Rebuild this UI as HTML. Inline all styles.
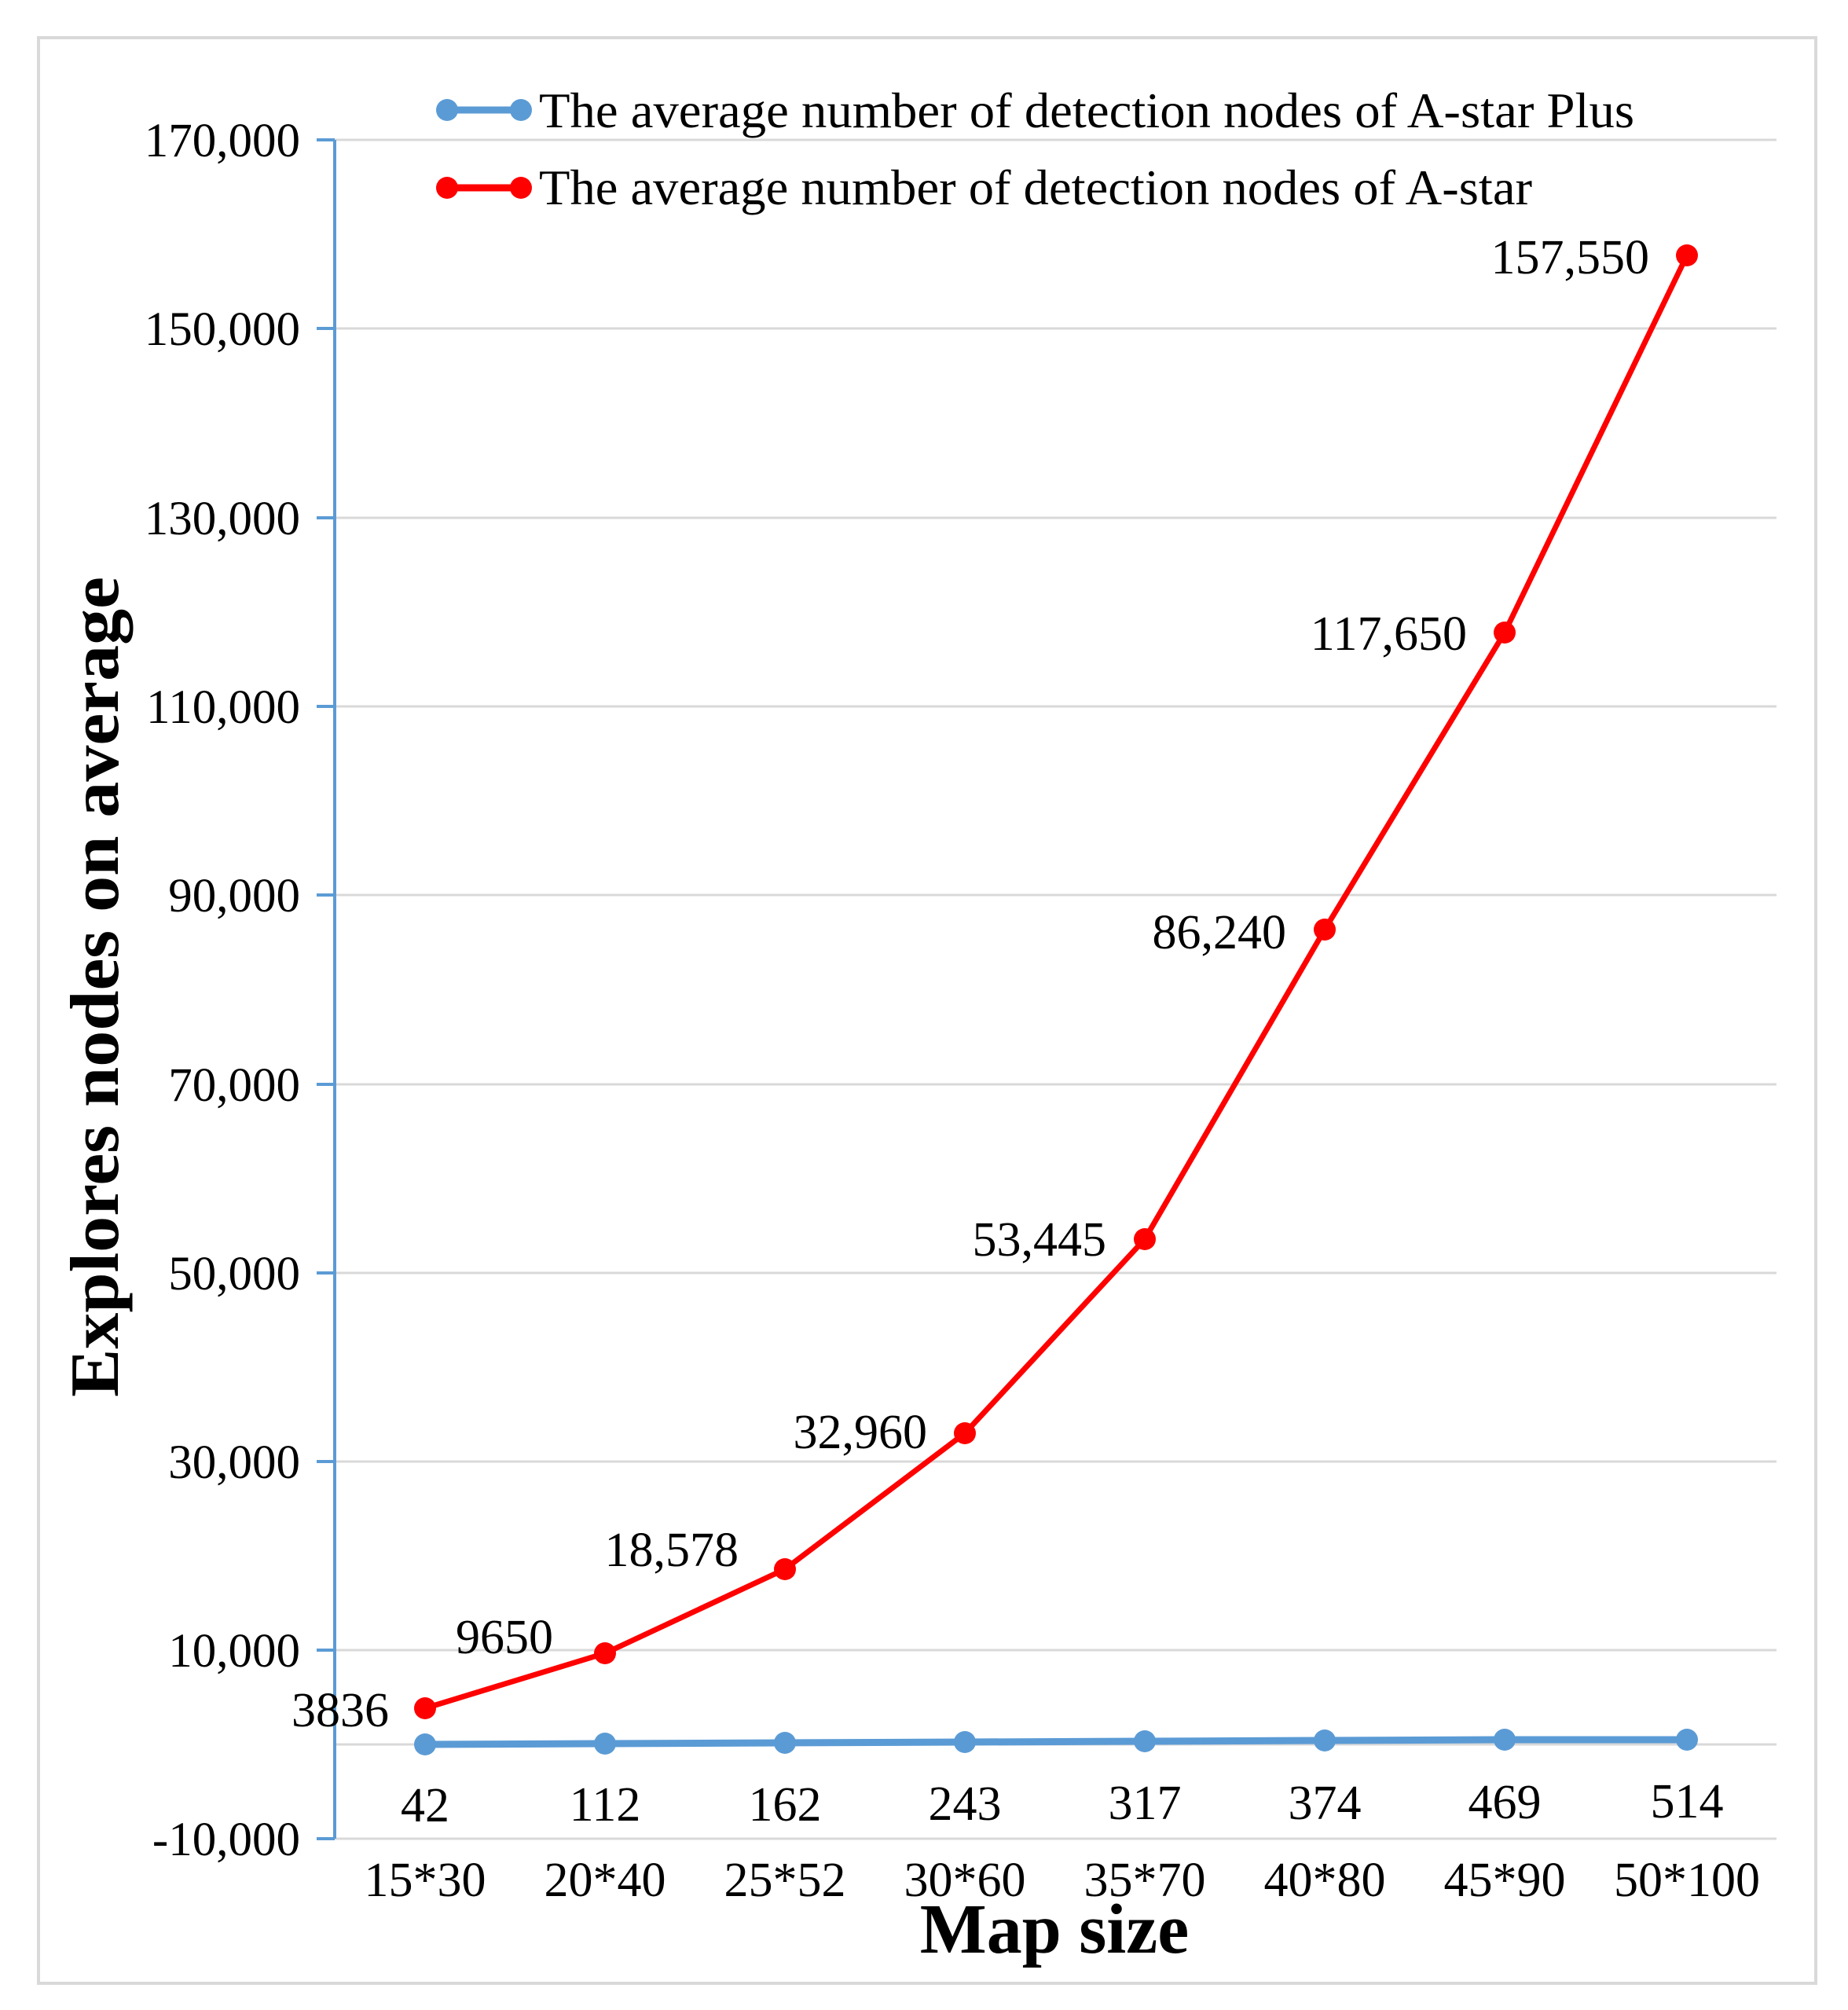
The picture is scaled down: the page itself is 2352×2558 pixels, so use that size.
<!DOCTYPE html>
<html><head><meta charset="utf-8"><style>
html,body{margin:0;padding:0;background:#fff;}
svg{display:block;}
text{font-family:"Liberation Serif",serif;fill:#000;}
</style></head><body>
<svg width="2352" height="2558" viewBox="0 0 2352 2558" xmlns="http://www.w3.org/2000/svg">
<rect x="49" y="48" width="2262" height="2476" fill="#fff" stroke="#d9d9d9" stroke-width="4"/>
<g stroke="#d9d9d9" stroke-width="3">
<line x1="426" y1="178" x2="2261" y2="178"/>
<line x1="426" y1="418" x2="2261" y2="418"/>
<line x1="426" y1="659" x2="2261" y2="659"/>
<line x1="426" y1="899" x2="2261" y2="899"/>
<line x1="426" y1="1139" x2="2261" y2="1139"/>
<line x1="426" y1="1380" x2="2261" y2="1380"/>
<line x1="426" y1="1620" x2="2261" y2="1620"/>
<line x1="426" y1="1860" x2="2261" y2="1860"/>
<line x1="426" y1="2100" x2="2261" y2="2100"/>
<line x1="426" y1="2220" x2="2261" y2="2220"/>
<line x1="426" y1="2340" x2="2261" y2="2340"/>
</g>
<g stroke="#5b9bd5" stroke-width="4" fill="none">
<line x1="426" y1="178" x2="426" y2="2340"/>
<line x1="403" y1="178" x2="426" y2="178"/>
<line x1="403" y1="418" x2="426" y2="418"/>
<line x1="403" y1="659" x2="426" y2="659"/>
<line x1="403" y1="899" x2="426" y2="899"/>
<line x1="403" y1="1139" x2="426" y2="1139"/>
<line x1="403" y1="1380" x2="426" y2="1380"/>
<line x1="403" y1="1620" x2="426" y2="1620"/>
<line x1="403" y1="1860" x2="426" y2="1860"/>
<line x1="403" y1="2100" x2="426" y2="2100"/>
<line x1="403" y1="2340" x2="426" y2="2340"/>
</g>
<g font-size="61" text-anchor="end">
<text x="382" y="199">170,000</text>
<text x="382" y="439">150,000</text>
<text x="382" y="680">130,000</text>
<text x="382" y="920">110,000</text>
<text x="382" y="1160">90,000</text>
<text x="382" y="1401">70,000</text>
<text x="382" y="1641">50,000</text>
<text x="382" y="1881">30,000</text>
<text x="382" y="2121">10,000</text>
<text x="382" y="2361">-10,000</text>
</g>
<text transform="translate(150,1256) rotate(-90)" font-size="88" font-weight="bold" text-anchor="middle" textLength="1044" lengthAdjust="spacingAndGlyphs">Explores nodes on average</text>
<text x="1342" y="2485" font-size="90" font-weight="bold" text-anchor="middle">Map size</text>
<polyline fill="none" stroke="#5b9bd5" stroke-width="9" points="541,2220 770,2219 999,2218 1228,2217 1457,2216 1686,2215 1915,2214 2147,2214"/>
<g fill="#5b9bd5">
<circle cx="541" cy="2220" r="14"/><circle cx="770" cy="2219" r="14"/><circle cx="999" cy="2218" r="14"/><circle cx="1228" cy="2217" r="14"/><circle cx="1457" cy="2216" r="14"/><circle cx="1686" cy="2215" r="14"/><circle cx="1915" cy="2214" r="14"/><circle cx="2147" cy="2214" r="14"/>
</g>
<g font-size="62" text-anchor="middle">
<text x="541" y="2318">42</text><text x="770" y="2317">112</text><text x="999" y="2317">162</text><text x="1228" y="2316">243</text><text x="1457" y="2315">317</text><text x="1686" y="2315">374</text><text x="1915" y="2314">469</text><text x="2147" y="2313">514</text>
<text x="541" y="2413">15*30</text><text x="770" y="2413">20*40</text><text x="999" y="2413">25*52</text><text x="1228" y="2413">30*60</text><text x="1457" y="2413">35*70</text><text x="1686" y="2413">40*80</text><text x="1915" y="2413">45*90</text><text x="2147" y="2413">50*100</text>
</g>
<polyline fill="none" stroke="#ff0000" stroke-width="7" points="541,2174 770,2104 999,1997 1228,1824 1457,1577 1686,1183 1915,805 2147,325"/>
<g fill="#ff0000">
<circle cx="541" cy="2174" r="14"/><circle cx="770" cy="2104" r="14"/><circle cx="999" cy="1997" r="14"/><circle cx="1228" cy="1824" r="14"/><circle cx="1457" cy="1577" r="14"/><circle cx="1686" cy="1183" r="14"/><circle cx="1915" cy="805" r="14"/><circle cx="2147" cy="325" r="14"/>
</g>
<g font-size="62" text-anchor="end">
<text x="495" y="2197">3836</text>
<text x="704" y="2104">9650</text>
<text x="940" y="1993">18,578</text>
<text x="1180" y="1843">32,960</text>
<text x="1408" y="1598">53,445</text>
<text x="1637" y="1207">86,240</text>
<text x="1867" y="827">117,650</text>
<text x="2099" y="348">157,550</text>
</g>
<line x1="569" y1="140" x2="663" y2="140" stroke="#5b9bd5" stroke-width="9"/>
<circle cx="569" cy="140" r="14" fill="#5b9bd5"/><circle cx="663" cy="140" r="14" fill="#5b9bd5"/>
<text x="686" y="162" font-size="63" textLength="1394" lengthAdjust="spacingAndGlyphs">The average number of detection nodes of A-star Plus</text>
<line x1="569" y1="239" x2="663" y2="239" stroke="#ff0000" stroke-width="9"/>
<circle cx="569" cy="239" r="14" fill="#ff0000"/><circle cx="663" cy="239" r="14" fill="#ff0000"/>
<text x="686" y="260" font-size="63" textLength="1264" lengthAdjust="spacingAndGlyphs">The average number of detection nodes of A-star</text>
</svg>
</body></html>
